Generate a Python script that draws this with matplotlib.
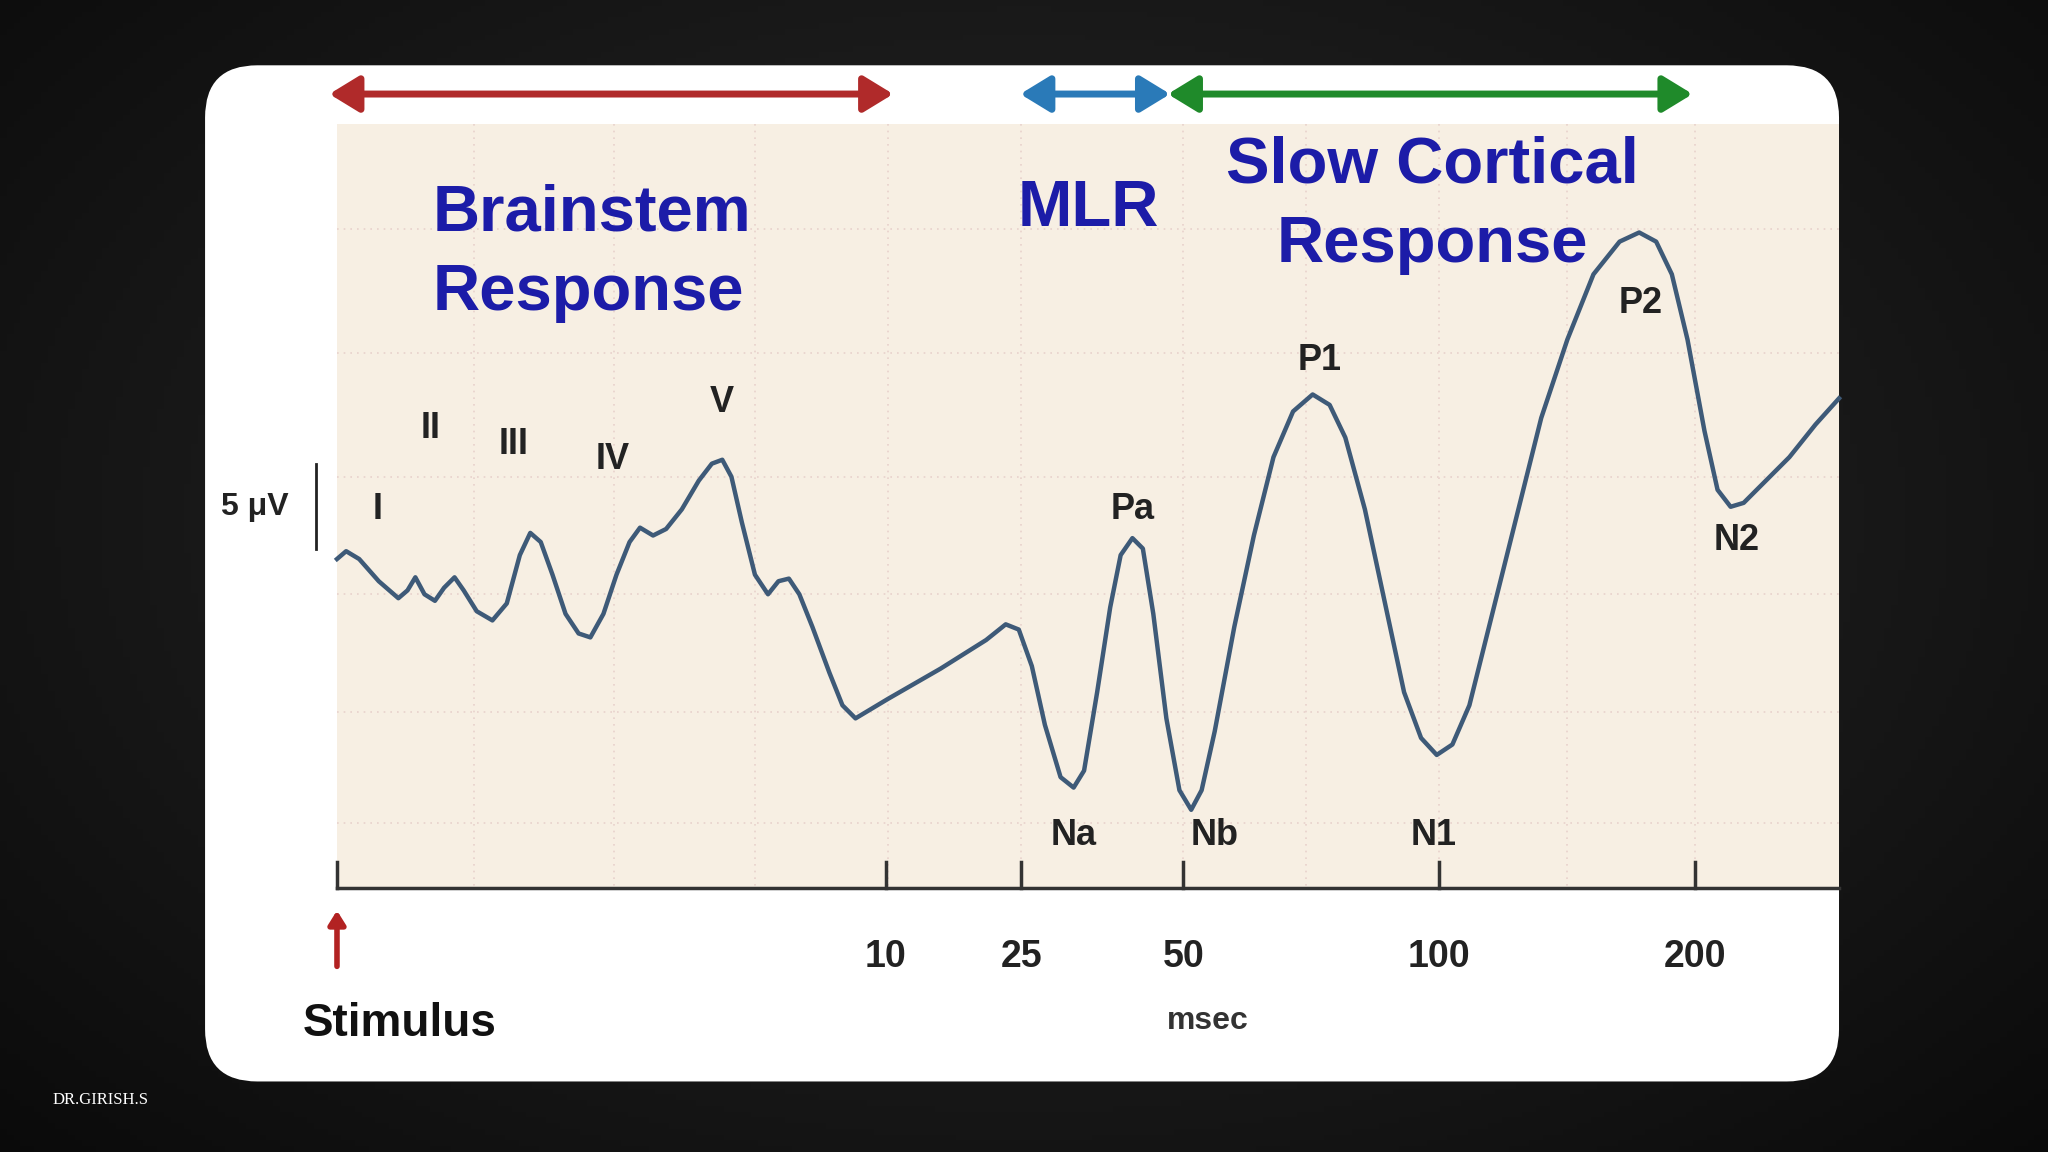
import numpy as np
import matplotlib
matplotlib.use("Agg")
import matplotlib.pyplot as plt
from matplotlib.patches import FancyBboxPatch, FancyArrowPatch

# waveform (x: time position, y: amplitude position in chart units)
wave_x = [258,265,275,290,305,312,318,325,333,340,348,355,365,377,388,398,406,414,423,433,443,452,462,472,482,490,500,510,522,535,545,553,560,568,578,588,596,604,612,622,635,645,655,680,720,755,770,780,790,800,812,822,830,840,850,858,867,875,883,893,903,912,920,930,945,960,975,990,1005,1018,1030,1045,1060,1075,1088,1100,1112,1125,1140,1160,1180,1200,1220,1240,1255,1268,1280,1292,1305,1315,1325,1335,1350,1370,1390,1408]
wave_y = [428,422,428,445,458,452,442,455,460,450,442,452,468,475,462,425,408,415,440,470,485,488,470,440,415,404,410,405,390,368,355,352,365,400,440,455,445,443,455,480,515,540,550,535,512,490,478,482,510,555,595,603,590,530,465,425,412,420,470,550,605,620,605,560,480,410,350,315,302,310,335,390,460,530,565,578,570,540,480,400,320,260,210,185,178,185,210,260,330,375,388,385,370,350,325,305]

tick_x = [258,678,782,906,1102,1298]
tick_labels = ["", "10", "25", "50", "100", "200"]

peak_labels = ["I","II","III","IV","V","Pa","Na","Nb","P1","N1","P2","N2"]
peak_lx = [289,330,393,469,553,867,822,930,1010,1098,1256,1330]
peak_ly = [390,328,340,352,308,390,640,640,276,640,232,414]

SANS = ["Liberation Sans", "DejaVu Sans"]

fig = plt.figure(figsize=(20.48, 11.52), dpi=100)
ax = fig.add_axes([0, 0, 1, 1])
ax.set_xlim(0, 1568); ax.set_ylim(882, 0); ax.axis("off")

yy, xx = np.mgrid[0:1:200j, 0:1:300j]
g = 0.17 - 0.13 * np.sqrt(((xx - 0.5) / 0.7) ** 2 + ((yy - 0.45) / 0.8) ** 2)
ax.imshow(np.clip(g, 0.03, 0.2), cmap="gray", vmin=0, vmax=1, extent=[0, 1568, 882, 0], aspect="auto", zorder=0)

ax.add_patch(FancyBboxPatch((157 + 40, 50 + 40), 1251 - 80, 778 - 80,
                            boxstyle="round,pad=40", fc="white", ec="none", zorder=1))
ax.add_patch(plt.Rectangle((258, 95), 1150, 585, fc="#f7efe3", ec="none", zorder=2))
for gx in [363, 470, 578, 680, 782, 906, 1000, 1102, 1200, 1298]:
    ax.plot([gx, gx], [95, 680], color="#e8d2cc", lw=1.2, ls=(0, (1, 3)), zorder=2.5)
for gy in [175, 270, 365, 455, 545, 630]:
    ax.plot([258, 1408], [gy, gy], color="#e8d2cc", lw=1.2, ls=(0, (1, 3)), zorder=2.5)

ax.plot(wave_x, wave_y, color="#3e5a78", lw=3.2, solid_joinstyle="round", zorder=4)

ax.plot([258, 1408], [680, 680], color="#333333", lw=2.5, zorder=4)
for tx, tl in zip(tick_x, tick_labels):
    ax.plot([tx, tx], [660, 680], color="#333333", lw=2.5, zorder=4)
    if tl:
        ax.text(tx, 733, tl, ha="center", va="center", fontsize=27, fontweight="bold",
                family=SANS, color="#222222", zorder=5)
ax.text(925, 782, "msec", ha="center", va="center", fontsize=23, fontweight="bold",
        family=SANS, color="#333333", zorder=5)
ax.text(306, 784, "Stimulus", ha="center", va="center", fontsize=33, fontweight="bold",
        family=SANS, color="#111111", zorder=5)
ax.annotate("", xy=(258, 695), xytext=(258, 742),
            arrowprops=dict(arrowstyle="-|>,head_width=0.5,head_length=0.8", color="#b22222", lw=4), zorder=5)

ax.plot([242, 242], [355, 420], color="#222222", lw=2, zorder=5)
ax.text(195, 388, "5 μV", ha="center", va="center", fontsize=23, fontweight="bold",
        family=SANS, color="#222222", zorder=5)

for t, lx, ly in zip(peak_labels, peak_lx, peak_ly):
    ax.text(lx, ly, t, ha="center", va="center", fontsize=26, fontweight="bold",
            family=SANS, color="#222222", zorder=5)

for x0, x1, c in [(250, 686, "#b02a2a"), (779, 898, "#2a7ab8"), (892, 1298, "#1f8a2a")]:
    ax.add_patch(FancyArrowPatch((x0, 72), (x1, 72), arrowstyle="<|-|>,head_width=0.55,head_length=0.9",
                                 mutation_scale=20, color=c, lw=5, zorder=6))

blue = "#1c1ca8"
ax.text(331, 194, "Brainstem\nResponse", ha="left", va="center", fontsize=47, fontweight="bold",
        family=SANS, color=blue, linespacing=1.42, zorder=6)
ax.text(833, 160, "MLR", ha="center", va="center", fontsize=47, fontweight="bold",
        family=SANS, color=blue, zorder=6)
ax.text(1097, 157, "Slow Cortical\nResponse", ha="center", va="center", fontsize=47, fontweight="bold",
        family=SANS, color=blue, linespacing=1.42, zorder=6)

ax.text(40, 842, "DR.GIRISH.S", ha="left", va="center", fontsize=12, family="Liberation Serif",
        color="white", zorder=6)

fig.savefig("out.png", dpi=100)
